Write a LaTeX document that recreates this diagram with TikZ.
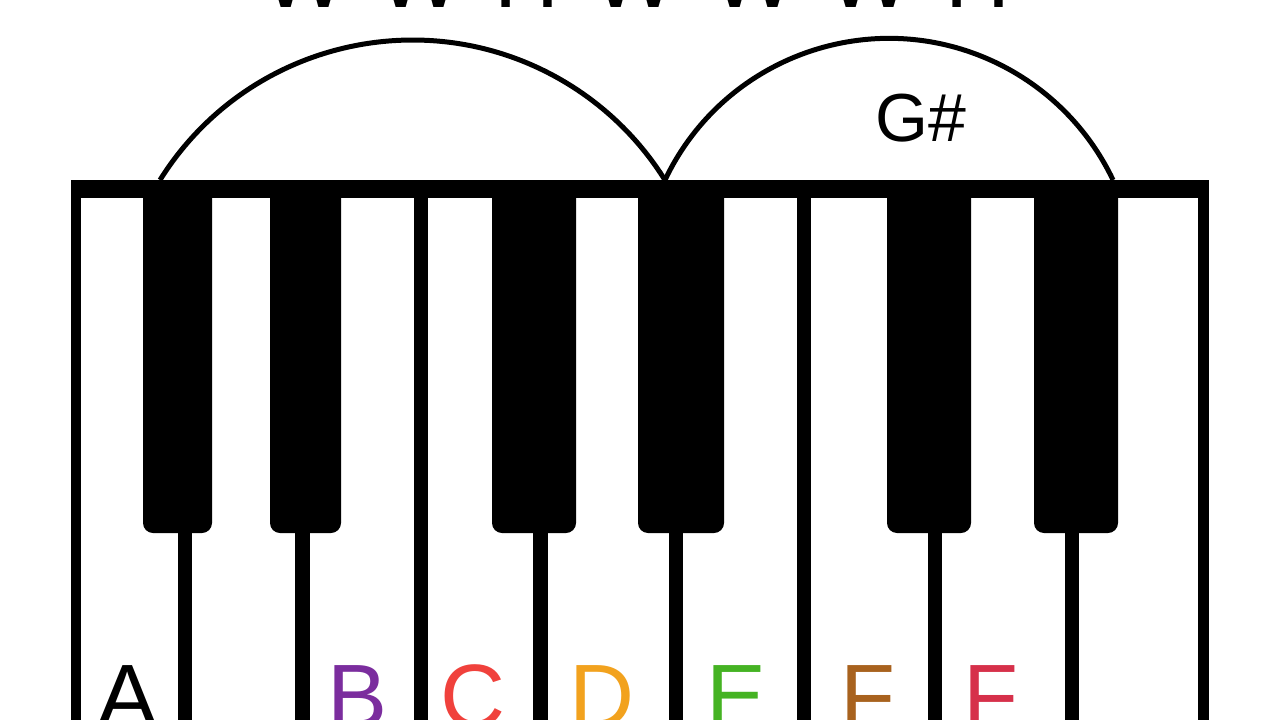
\documentclass[tikz,border=0pt]{standalone}
\usepackage{fontspec}
\setmainfont{Liberation Sans}
\definecolor{cB}{HTML}{7B2D9E}
\definecolor{cC}{HTML}{F0413C}
\definecolor{cD}{HTML}{F2A21E}
\definecolor{cE}{HTML}{45B323}
\definecolor{cF}{HTML}{A8621E}
\definecolor{cG}{HTML}{D6304A}
\begin{document}
\begin{tikzpicture}[x=1pt,y=-1pt,
  keyfill/.style={fill=black},
  arcline/.style={draw=black, line width=5pt},
  steplabel/.style={anchor=base, inner sep=0pt, font=\fontsize{90}{100}\selectfont},
  notelabel/.style={anchor=base, inner sep=0pt, font=\fontsize{90}{100}\selectfont},
  sharplabel/.style={anchor=base, inner sep=0pt, font=\fontsize{68}{80}\selectfont}]
\useasboundingbox (0,0) rectangle (1280,720);
\clip (0,0) rectangle (1280,720);
\fill[white] (0,0) rectangle (1280,720);
% frame
\fill[keyfill] (71,180) rectangle (1209,198);
\fill[keyfill] (71,180) rectangle (81,730);
\fill[keyfill] (1198,180) rectangle (1209,730);
% full separators
\fill[keyfill] (414,190) rectangle (428,730);
\fill[keyfill] (797,190) rectangle (811,730);
% black keys and stems
\foreach \l/\r/\sl/\sr in {143/212/178/192, 270/341/295/310, 492/576/533/548, 638/724/669/683, 887/971/928/942, 1034/1118/1065/1079}{
  \fill[keyfill, rounded corners=10pt] (\l,182) rectangle (\r,533);
  \fill[keyfill] (\sl,525) rectangle (\sr,730);
}
% arcs
\coordinate (a1s) at (160,180);
\coordinate (a2s) at (665,180);
\draw[arcline] (a1s) arc[start angle=-148, end angle=-32, radius=297.7];
\draw[arcline] (a2s) arc[start angle=-154.6, end angle=-25.4, radius=248];
% step labels
\node[steplabel] (s1) at (305,7) {W};
\node[steplabel] (s2) at (420,7) {W};
\node[steplabel] (s3) at (527,7) {H};
\node[steplabel] (s4) at (635,7) {W};
\node[steplabel] (s5) at (754,7) {W};
\node[steplabel] (s6) at (870,7) {W};
\node[steplabel] (s7) at (978,7) {H};
% sharp
\node[sharplabel] (gs) at (921,141) {G\#};
% notes
\node[notelabel, text=black] (nA) at (128,727) {A};
\node[notelabel, text=cB] (nB) at (358,727) {B};
\node[notelabel, text=cC] (nC) at (473,727) {C};
\node[notelabel, text=cD] (nD) at (602,727) {D};
\node[notelabel, text=cE] (nE) at (737,727) {E};
\node[notelabel, text=cF] (nF) at (868,727) {F};
\node[notelabel, text=cG] (nF2) at (991,727) {F};
\end{tikzpicture}
\end{document}
